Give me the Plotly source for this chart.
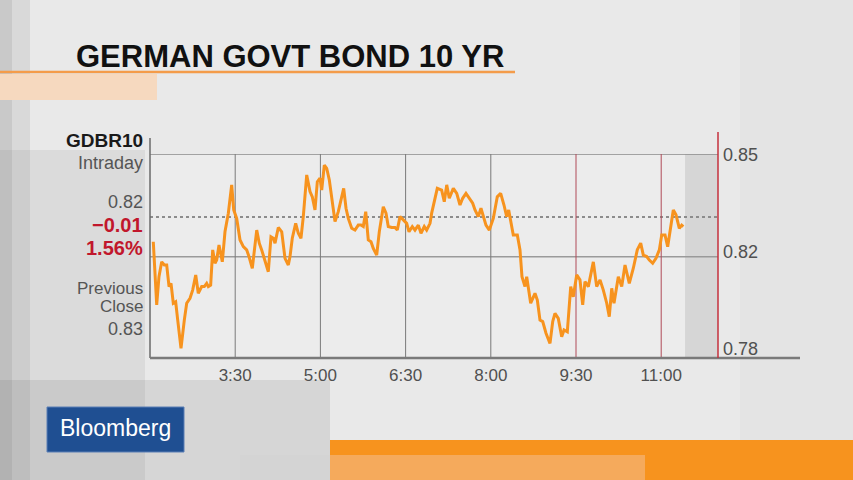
import plotly.graph_objects as go

# ---------------- data ----------------
TITLE = "GERMAN GOVT BOND 10 YR"
TICKER = "GDBR10"
X_TICK_VALS = [3.5, 5.0, 6.5, 8.0, 9.5, 11.0]
X_TICK_TEXT = ["3:30", "5:00", "6:30", "8:00", "9:30", "11:00"]
RED_TICKS = [9.5, 11.0]
RIGHT_TICK_TEXT = ["0.85", "0.82", "0.78"]
MID_GRID = 0.8147
PREV_CLOSE = 0.8284
SHADE_START = 11.42
X_RANGE = [2.0, 12.0]
Y_RANGE = [0.78, 0.85]

TIME_H = [
    2.058, 2.118, 2.158, 2.206, 2.252, 2.294, 2.335, 2.370, 2.410, 2.452,
    2.488, 2.546, 2.604, 2.646, 2.704, 2.751, 2.805, 2.850, 2.910, 2.956,
    2.998, 3.027, 3.068, 3.104, 3.144, 3.174, 3.215, 3.273, 3.320, 3.379,
    3.438, 3.474, 3.526, 3.585, 3.643, 3.702, 3.743, 3.801, 3.879, 3.924,
    3.966, 4.025, 4.083, 4.130, 4.171, 4.201, 4.259, 4.319, 4.377, 4.435,
    4.465, 4.505, 4.565, 4.611, 4.658, 4.699, 4.759, 4.817, 4.858, 4.905,
    4.946, 4.993, 5.023, 5.069, 5.111, 5.157, 5.199, 5.257, 5.315, 5.363,
    5.410, 5.451, 5.491, 5.551, 5.609, 5.667, 5.715, 5.755, 5.798, 5.843,
    5.891, 5.931, 5.991, 6.037, 6.107, 6.155, 6.195, 6.255, 6.313, 6.354,
    6.401, 6.460, 6.519, 6.560, 6.618, 6.665, 6.724, 6.771, 6.829, 6.871,
    6.930, 6.959, 7.058, 7.135, 7.181, 7.224, 7.269, 7.340, 7.400, 7.458,
    7.505, 7.563, 7.634, 7.681, 7.722, 7.780, 7.827, 7.868, 7.915, 7.974,
    8.044, 8.114, 8.174, 8.232, 8.280, 8.315, 8.368, 8.396, 8.467, 8.514,
    8.549, 8.602, 8.632, 8.702, 8.778, 8.819, 8.866, 8.914, 8.972, 9.042,
    9.090, 9.130, 9.188, 9.248, 9.289, 9.347, 9.407, 9.452, 9.512, 9.570,
    9.618, 9.658, 9.717, 9.805, 9.864, 9.923, 9.981, 10.041, 10.086, 10.129,
    10.169, 10.245, 10.305, 10.363, 10.438, 10.509, 10.579, 10.639, 10.685, 10.745,
    10.791, 10.850, 10.908, 10.967, 11.009, 11.067, 11.114, 11.155, 11.213, 11.261,
    11.319, 11.361, 11.389,
]
YIELD = [
    0.8199, 0.7982, 0.8079, 0.8130, 0.8119, 0.8119, 0.8045, 0.8056, 0.7988, 0.7993,
    0.7930, 0.7833, 0.7930, 0.7988, 0.8005, 0.8033, 0.8085, 0.8022, 0.8045, 0.8045,
    0.8056, 0.8045, 0.8050, 0.8171, 0.8125, 0.8136, 0.8188, 0.8130, 0.8233, 0.8297,
    0.8394, 0.8308, 0.8279, 0.8205, 0.8182, 0.8171, 0.8148, 0.8108, 0.8239, 0.8194,
    0.8171, 0.8136, 0.8096, 0.8216, 0.8211, 0.8194, 0.8248, 0.8233, 0.8142, 0.8119,
    0.8148, 0.8211, 0.8262, 0.8228, 0.8211, 0.8285, 0.8428, 0.8371, 0.8353, 0.8308,
    0.8405, 0.8417, 0.8376, 0.8462, 0.8451, 0.8411, 0.8342, 0.8268, 0.8302, 0.8342,
    0.8382, 0.8314, 0.8279, 0.8245, 0.8239, 0.8256, 0.8256, 0.8251, 0.8302, 0.8205,
    0.8199, 0.8176, 0.8153, 0.8233, 0.8319, 0.8297, 0.8251, 0.8248, 0.8248, 0.8239,
    0.8285, 0.8274, 0.8262, 0.8233, 0.8251, 0.8239, 0.8256, 0.8228, 0.8251, 0.8239,
    0.8262, 0.8297, 0.8382, 0.8376, 0.8336, 0.8394, 0.8348, 0.8382, 0.8365, 0.8325,
    0.8348, 0.8365, 0.8342, 0.8331, 0.8308, 0.8285, 0.8314, 0.8285, 0.8256, 0.8239,
    0.8279, 0.8353, 0.8365, 0.8325, 0.8285, 0.8308, 0.8256, 0.8222, 0.8222, 0.8171,
    0.8079, 0.8045, 0.8079, 0.7988, 0.8022, 0.7999, 0.7930, 0.7925, 0.7885, 0.7850,
    0.7925, 0.7953, 0.7936, 0.7873, 0.7896, 0.7890, 0.8045, 0.8010, 0.8085, 0.8068,
    0.7982, 0.8062, 0.8045, 0.8130, 0.8045, 0.8068, 0.8033, 0.7988, 0.7942, 0.8039,
    0.7988, 0.8079, 0.8045, 0.8119, 0.8056, 0.8108, 0.8171, 0.8194, 0.8153, 0.8148,
    0.8136, 0.8125, 0.8142, 0.8171, 0.8222, 0.8222, 0.8182, 0.8228, 0.8308, 0.8291,
    0.8245, 0.8256, 0.8251,
]

# ---------------- layout helpers ----------------
W, H = 853, 480
PLOT_L, PLOT_R, PLOT_T, PLOT_B = 150, 718, 154, 358
FONT = "Liberation Sans, Arial, sans-serif"
ORANGE = "#f7931e"
RED = "#c1172c"


def px(x):
    return x / W


def py(y):
    return (H - y) / H


def rect(x0, y0, x1, y1, color, layer="below"):
    return dict(type="rect", xref="paper", yref="paper",
                x0=px(x0), x1=px(x1), y0=py(y1), y1=py(y0),
                fillcolor=color, line=dict(width=0), layer=layer)


def pline(x0, y0, x1, y1, color, width, dash="solid", layer="below"):
    return dict(type="line", xref="paper", yref="paper",
                x0=px(x0), x1=px(x1), y0=py(y0), y1=py(y1),
                line=dict(color=color, width=width, dash=dash), layer=layer)


fig = go.Figure()

fig.add_trace(go.Scatter(
    x=TIME_H, y=YIELD, mode="lines",
    line=dict(color=ORANGE, width=3, shape="linear"),
    hoverinfo="skip", showlegend=False,
))

shapes = []
# background texture approximations
shapes.append(rect(0, 0, 12, 480, "rgba(110,110,110,0.15)"))
shapes.append(rect(0, 0, 30, 480, "rgba(110,110,110,0.12)"))
shapes.append(rect(0, 150, 145, 480, "rgba(120,120,120,0.12)"))
shapes.append(rect(0, 380, 330, 480, "rgba(100,100,100,0.14)"))
shapes.append(rect(740, 0, 853, 440, "rgba(150,150,150,0.06)"))
# plot area background
shapes.append(rect(PLOT_L, PLOT_T, PLOT_R, PLOT_B, "#ececec"))
# title decoration
shapes.append(rect(0, 74, 157, 100, "#f6d9bf"))
shapes.append(pline(0, 72, 515, 72, "#f49c4a", 2.5))
# shaded (hatched) region at the right of the plot
shapes.append(dict(type="rect", xref="x", yref="paper", x0=SHADE_START, x1=X_RANGE[1],
                   y0=py(PLOT_B), y1=py(PLOT_T), fillcolor="#d6d6d6",
                   line=dict(width=0), layer="below"))
# horizontal gridlines
shapes.append(dict(type="line", xref="paper", yref="y", x0=px(PLOT_L), x1=px(PLOT_R),
                   y0=Y_RANGE[1], y1=Y_RANGE[1], line=dict(color="#8a8a8a", width=1.5), layer="below"))
shapes.append(dict(type="line", xref="paper", yref="y", x0=px(PLOT_L), x1=px(PLOT_R),
                   y0=MID_GRID, y1=MID_GRID, line=dict(color="#9a9a9a", width=1.5), layer="below"))
shapes.append(dict(type="line", xref="paper", yref="y", x0=px(PLOT_L), x1=px(PLOT_R),
                   y0=PREV_CLOSE, y1=PREV_CLOSE, line=dict(color="#8c8c8c", width=2, dash="dot"),
                   layer="below"))
# vertical gridlines
for t in X_TICK_VALS:
    col = "#b04a58" if t in RED_TICKS else "#7a7a7a"
    shapes.append(dict(type="line", xref="x", yref="paper", x0=t, x1=t,
                       y0=py(PLOT_B), y1=py(PLOT_T), line=dict(color=col, width=1), layer="below"))
# axis frame
shapes.append(pline(PLOT_L, 138, PLOT_L, PLOT_B, "#6a6a6a", 1.5, layer="above"))
shapes.append(pline(PLOT_L, PLOT_B, 800, PLOT_B, "#7a7a7a", 2.5, layer="above"))
shapes.append(pline(PLOT_R, 132, PLOT_R, PLOT_B, "#c4303c", 1.5, layer="above"))
# Bloomberg logo box
shapes.append(dict(type="rect", xref="paper", yref="paper", x0=px(47), x1=px(184),
                   y0=py(452), y1=py(407), fillcolor="#1f4f92",
                   line=dict(color="#5a7fb5", width=1), layer="above"))
# bottom orange bands
shapes.append(rect(240, 455, 330, 480, "#d4d4d4", layer="above"))
shapes.append(rect(330, 440, 853, 455, ORANGE, layer="above"))
shapes.append(rect(330, 455, 645, 480, "#f5aa5c", layer="above"))
shapes.append(rect(645, 455, 853, 480, ORANGE, layer="above"))

annotations = []
annotations.append(dict(text=f"<b>{TITLE}</b>", xref="paper", yref="paper",
                        x=px(74), y=py(56), xanchor="left", yanchor="middle",
                        showarrow=False, font=dict(family=FONT, size=31, color="#111111")))

left_labels = [
    (f"<b>{TICKER}</b>", 141, 19, "#1a1a1a"),
    ("Intraday", 163, 18, "#555555"),
    ("0.82", 202, 18, "#555555"),
    ("<b>\u22120.01</b>", 225, 20, RED),
    ("<b>1.56%</b>", 248, 20, RED),
    ("Previous", 288, 17, "#555555"),
    ("Close", 306, 17, "#555555"),
    ("0.83", 329, 18, "#555555"),
]
for txt, yc, size, col in left_labels:
    annotations.append(dict(text=txt, xref="paper", yref="paper", x=px(145), y=py(yc),
                            xanchor="right", yanchor="middle", showarrow=False,
                            font=dict(family=FONT, size=size, color=col)))

# right-hand value labels
for txt, yc in zip(RIGHT_TICK_TEXT, [155, 252, 349]):
    annotations.append(dict(text=txt, xref="paper", yref="paper", x=px(721), y=py(yc),
                            xanchor="left", yanchor="middle", showarrow=False,
                            font=dict(family=FONT, size=18, color="#505050")))

annotations.append(dict(text="Bloomberg", xref="paper", yref="paper", x=px(115.5), y=py(428),
                        xanchor="center", yanchor="middle", showarrow=False,
                        font=dict(family="Liberation Sans Narrow, Liberation Sans, Arial", size=23,
                                  color="white")))

fig.update_layout(
    width=W, height=H,
    margin=dict(l=0, r=0, t=0, b=0, pad=0),
    paper_bgcolor="#e9e9e9",
    plot_bgcolor="rgba(0,0,0,0)",
    showlegend=False,
    shapes=shapes,
    annotations=annotations,
    xaxis=dict(
        domain=[px(PLOT_L), px(PLOT_R)], range=X_RANGE,
        tickvals=X_TICK_VALS, ticktext=X_TICK_TEXT,
        showgrid=False, zeroline=False, showline=False,
        ticks="", ticklen=0, ticklabelstandoff=5,
        tickfont=dict(family=FONT, size=17, color="#505050"),
        fixedrange=True,
    ),
    yaxis=dict(
        domain=[py(PLOT_B), py(PLOT_T)], range=Y_RANGE,
        showticklabels=False, showgrid=False, zeroline=False, showline=False, ticks="",
        fixedrange=True,
    ),
)

fig.write_html(
    "out.html",
    config={"displayModeBar": False},
    post_script="document.body.style.margin='0';document.body.style.background='#e9e9e9';",
)
